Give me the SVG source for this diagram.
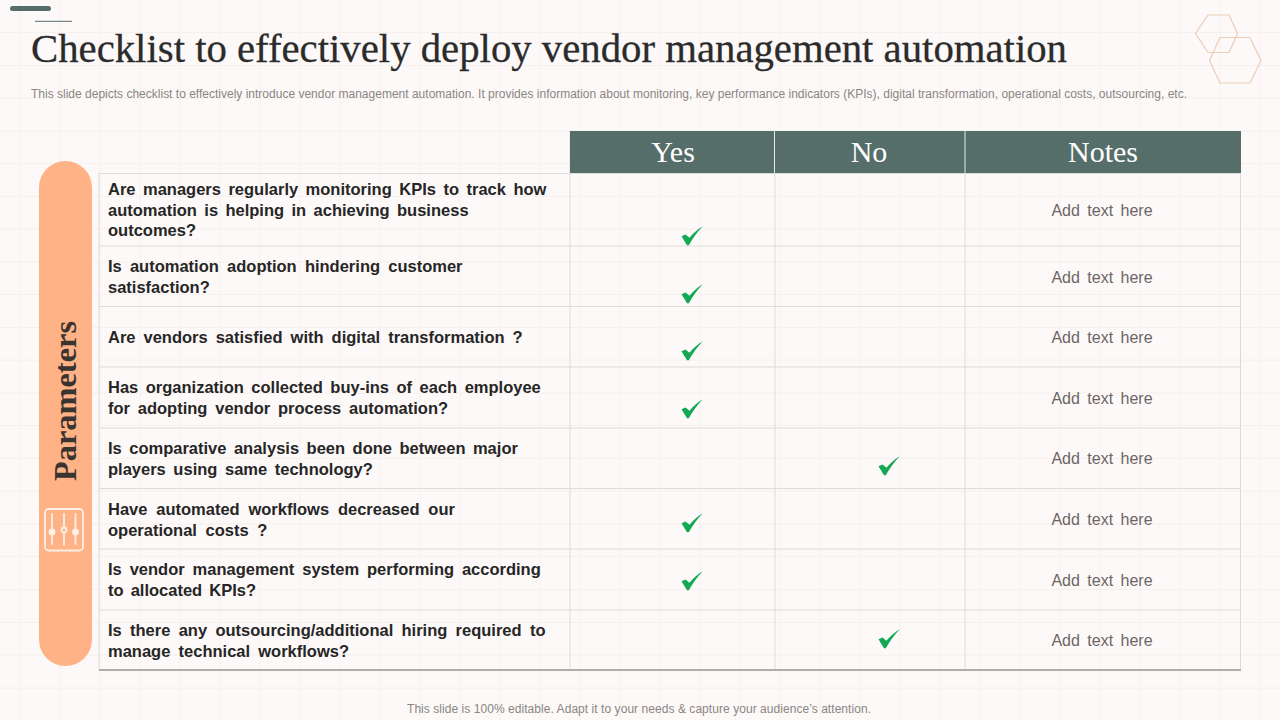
<svg xmlns="http://www.w3.org/2000/svg" width="1280" height="720" viewBox="0 0 1280 720">
<defs>
<style>
.grid line{stroke:#f6f0ee;stroke-width:1}
.title{font-family:"Liberation Serif",serif;font-size:41px;fill:#2b2b2b;stroke:#2b2b2b;stroke-width:.3}
.sub{font-family:"Liberation Sans",Arial,sans-serif;font-size:12px;fill:#8a8583}
.head{font-family:"Liberation Serif",serif;font-size:30px;fill:#fff;text-anchor:middle}
.q{font-family:"Liberation Sans",Arial,sans-serif;font-size:16.500px;font-weight:700;fill:#262626}
.note{font-family:"Liberation Sans",Arial,sans-serif;font-size:16px;fill:#6b6665;text-anchor:middle;word-spacing:3px}
.rule{stroke:#dfdbd9;stroke-width:1;fill:none}
.hex{fill:none;stroke:#eccdb5;stroke-width:1.2}
.icon{stroke:#fdf0e4;fill:none;stroke-width:1.8;stroke-linecap:round}
</style>
<path id="tick" d="M-11 -4.300 L-7 -6 L-3 -2.700 C0 -7 5 -11 10.300 -14.300 C5 -9 0 -2 -3.700 4.700 L-5.500 4.700 Z" fill="#12a854"/>
</defs>
<rect width="1280" height="720" fill="#fdf9f8"/>
<g class="grid">
<line x1="20" y1="0" x2="20" y2="720"/><line x1="60" y1="0" x2="60" y2="720"/><line x1="100" y1="0" x2="100" y2="720"/><line x1="140" y1="0" x2="140" y2="720"/><line x1="180" y1="0" x2="180" y2="720"/><line x1="220" y1="0" x2="220" y2="720"/><line x1="260" y1="0" x2="260" y2="720"/><line x1="300" y1="0" x2="300" y2="720"/><line x1="340" y1="0" x2="340" y2="720"/><line x1="380" y1="0" x2="380" y2="720"/><line x1="420" y1="0" x2="420" y2="720"/><line x1="460" y1="0" x2="460" y2="720"/><line x1="500" y1="0" x2="500" y2="720"/><line x1="540" y1="0" x2="540" y2="720"/><line x1="580" y1="0" x2="580" y2="720"/><line x1="620" y1="0" x2="620" y2="720"/><line x1="660" y1="0" x2="660" y2="720"/><line x1="700" y1="0" x2="700" y2="720"/><line x1="740" y1="0" x2="740" y2="720"/><line x1="780" y1="0" x2="780" y2="720"/><line x1="820" y1="0" x2="820" y2="720"/><line x1="860" y1="0" x2="860" y2="720"/><line x1="900" y1="0" x2="900" y2="720"/><line x1="940" y1="0" x2="940" y2="720"/><line x1="980" y1="0" x2="980" y2="720"/><line x1="1020" y1="0" x2="1020" y2="720"/><line x1="1060" y1="0" x2="1060" y2="720"/><line x1="1100" y1="0" x2="1100" y2="720"/><line x1="1140" y1="0" x2="1140" y2="720"/><line x1="1180" y1="0" x2="1180" y2="720"/><line x1="1220" y1="0" x2="1220" y2="720"/><line x1="1260" y1="0" x2="1260" y2="720"/>
<line x1="0" y1="32.5" x2="1280" y2="32.5"/><line x1="0" y1="65.5" x2="1280" y2="65.5"/><line x1="0" y1="98" x2="1280" y2="98"/><line x1="0" y1="131" x2="1280" y2="131"/><line x1="0" y1="163.5" x2="1280" y2="163.5"/><line x1="0" y1="196.5" x2="1280" y2="196.5"/><line x1="0" y1="229" x2="1280" y2="229"/><line x1="0" y1="262" x2="1280" y2="262"/><line x1="0" y1="294.5" x2="1280" y2="294.5"/><line x1="0" y1="327.5" x2="1280" y2="327.5"/><line x1="0" y1="360" x2="1280" y2="360"/><line x1="0" y1="393" x2="1280" y2="393"/><line x1="0" y1="425.5" x2="1280" y2="425.5"/><line x1="0" y1="458.5" x2="1280" y2="458.5"/><line x1="0" y1="491" x2="1280" y2="491"/><line x1="0" y1="524" x2="1280" y2="524"/><line x1="0" y1="556.5" x2="1280" y2="556.5"/><line x1="0" y1="589.5" x2="1280" y2="589.5"/><line x1="0" y1="622.5" x2="1280" y2="622.5"/><line x1="0" y1="655" x2="1280" y2="655"/><line x1="0" y1="688" x2="1280" y2="688"/>
</g>
<g id="header-decor">
<rect x="10" y="6" width="41" height="5" rx="2.5" fill="#566e69"/>
<line x1="35" y1="21.3" x2="72" y2="21.3" stroke="#566e69" stroke-width="1"/>
<polygon class="hex" points="1195.500,33.500 1208,15 1229,15 1237.500,33.500 1229,52.500 1208,52.500"/>
<polygon class="hex" points="1209.500,60.500 1220,37.500 1250,37.500 1261,60.500 1250,83 1220,83"/>
</g>
<text id="title" class="title" x="31" y="62" textLength="1036" lengthAdjust="spacingAndGlyphs">Checklist to effectively deploy vendor management automation</text>
<text id="subtitle" class="sub" x="31" y="98" textLength="1156" lengthAdjust="spacing">This slide depicts checklist to effectively  introduce vendor management automation. It provides information about monitoring, key performance indicators (KPIs), digital transformation, operational costs, outsourcing, etc.</text>
<g id="parameters">
<rect x="39" y="161" width="53" height="505" rx="26.500" fill="#ffb285"/>
<text transform="translate(76 481) rotate(-90)" x="0" y="0" font-family="'Liberation Serif',serif" font-size="32" font-weight="700" fill="#3a3431" textLength="160" lengthAdjust="spacingAndGlyphs">Parameters</text>
<g class="icon">
<rect x="45" y="509" width="38" height="41.500" rx="3.500"/>
<line x1="52" y1="514" x2="52" y2="544"/><line x1="64" y1="514" x2="64" y2="545"/><line x1="75.500" y1="514" x2="75.500" y2="544"/>
<circle cx="52" cy="532" r="2.500" fill="#fdf0e4"/><circle cx="64" cy="530" r="2.500" fill="#ffb285"/><circle cx="75.500" cy="532" r="2.500" fill="#fdf0e4"/>
</g>
</g>
<g id="table">
<g class="rule">
<path d="M99 173.500 H1241 M99 246 H1241 M99 306.500 H1241 M99 367 H1241 M99 428 H1241 M99 488.500 H1241 M99 549 H1241 M99 610 H1241"/>
<path d="M99 173 V670 M570 131 V670 M775 173 V670 M965 173 V670 M1240.500 131 V670"/>
</g>
<rect x="570" y="131" width="671" height="42" fill="#566e69"/>
<path d="M774.500 131 V173 M965 131 V173" stroke="#e5e8e7" stroke-width="1"/>
<line x1="99" y1="670" x2="1241" y2="670" stroke="#aeaeac" stroke-width="1.800"/>
<text class="head" x="673" y="162">Yes</text><text class="head" x="869" y="162">No</text><text class="head" x="1103" y="162">Notes</text>
</g>
<g id="row-1"><text class="q" x="108" y="195" word-spacing="2.900">Are managers regularly monitoring KPIs to track how</text><text class="q" x="108" y="216" word-spacing="2.800">automation is helping in achieving business</text><text class="q" x="108" y="236">outcomes?</text><use href="#tick" x="692.500" y="240.500"/><text class="note" x="1102" y="216">Add text here</text></g>
<g id="row-2"><text class="q" x="108" y="272" word-spacing="3.600">Is automation adoption hindering customer</text><text class="q" x="108" y="293">satisfaction?</text><use href="#tick" x="692.500" y="298.500"/><text class="note" x="1102" y="283">Add text here</text></g>
<g id="row-3"><text class="q" x="108" y="343" word-spacing="3.400">Are vendors satisfied with digital transformation ?</text><use href="#tick" x="692.500" y="355.500"/><text class="note" x="1102" y="343">Add text here</text></g>
<g id="row-4"><text class="q" x="108" y="393" word-spacing="2.900">Has organization collected buy-ins of each employee</text><text class="q" x="108" y="414" word-spacing="3.200">for adopting vendor process automation?</text><use href="#tick" x="692.500" y="413.500"/><text class="note" x="1102" y="404">Add text here</text></g>
<g id="row-5"><text class="q" x="108" y="454" word-spacing="2.900">Is comparative analysis been done between major</text><text class="q" x="108" y="475" word-spacing="3">players using same technology?</text><use href="#tick" x="889.500" y="470.500"/><text class="note" x="1102" y="464">Add text here</text></g>
<g id="row-6"><text class="q" x="108" y="515" word-spacing="4.200">Have automated workflows decreased our</text><text class="q" x="108" y="536" word-spacing="4">operational costs ?</text><use href="#tick" x="692.500" y="527.500"/><text class="note" x="1102" y="525">Add text here</text></g>
<g id="row-7"><text class="q" x="108" y="575" word-spacing="3.300">Is vendor management system performing according</text><text class="q" x="108" y="596" word-spacing="2.500">to allocated KPIs?</text><use href="#tick" x="692.500" y="585.500"/><text class="note" x="1102" y="586">Add text here</text></g>
<g id="row-8"><text class="q" x="108" y="636" word-spacing="3.700">Is there any outsourcing/additional hiring required to</text><text class="q" x="108" y="657" word-spacing="3.600">manage technical workflows?</text><use href="#tick" x="889.500" y="643.500"/><text class="note" x="1102" y="646">Add text here</text></g>
<text id="footer" class="sub" x="639" y="713" text-anchor="middle" textLength="464" lengthAdjust="spacing">This slide is 100% editable. Adapt it to your needs &amp; capture your audience’s attention.</text>
</svg>
